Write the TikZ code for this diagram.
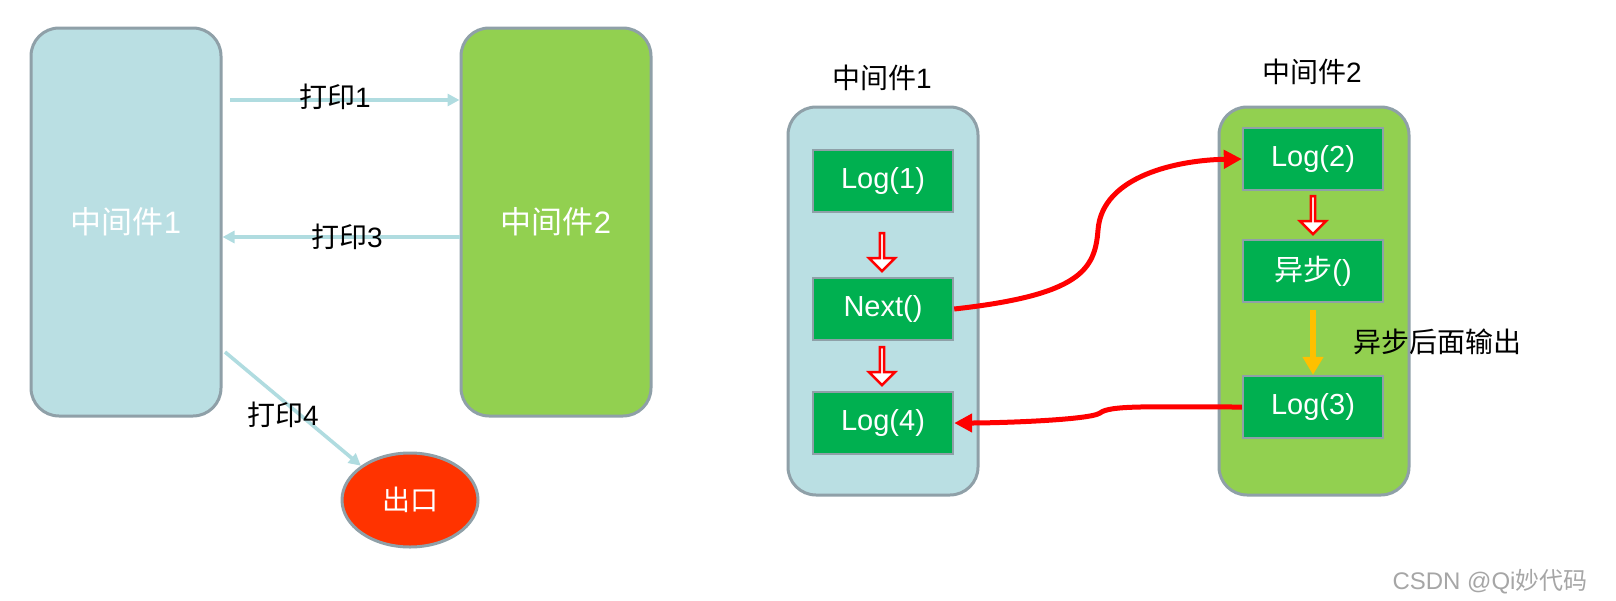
\documentclass[tikz,border=0pt]{standalone}
\usepackage{fontspec}
\setmainfont{Liberation Sans}
\newfontfamily\cjk{Noto Sans CJK SC}
\usetikzlibrary{shapes.arrows,shapes.geometric,arrows.meta}
\definecolor{lb}{HTML}{BADFE3}
\definecolor{lg}{HTML}{92D050}
\definecolor{bd}{HTML}{8FA0A8}
\definecolor{dg}{HTML}{00B050}
\definecolor{ar}{HTML}{B0DCE0}
\definecolor{og}{HTML}{FFC000}
\begin{document}
\begin{tikzpicture}[x=0.5pt,y=-0.5pt,
 big/.style={draw=bd,line width=1.5pt,rounded corners=14pt,minimum width=95pt,minimum height=194pt,font=\fontsize{15.5}{17}\selectfont,text=white},
 inn/.style={draw=bd,line width=1.2pt,fill=dg,text=white,minimum width=70pt,minimum height=31pt,font=\fontsize{14.5}{16}\selectfont},
 hol/.style={single arrow,draw=red,fill=white,line width=1.2pt,shape border rotate=270,minimum height=19pt,minimum width=13pt,single arrow head extend=3pt,inner sep=0pt},
 la/.style={ar,line width=1.8pt,-{Triangle[length=6pt,width=6pt]}},
 lbl/.style={font=\fontsize{14}{16}\selectfont},
 rd/.style={red,line width=2.5pt,-{Triangle[length=9pt,width=9pt]}}]
\node[big,fill=lb] (m1) at (126,222) {{\cjk 中间件}1};
\node[big,fill=lg] (m2) at (556,222) {{\cjk 中间件}2};
\coordinate (a1) at (230,100);
\draw[la] (a1) -- (m2.west |- a1);
\node[lbl] (t1) at (335,97) {{\cjk 打印}1};
\draw[la] (m2.west |- 0,237) -- (m1.east |- 0,237);
\node[lbl] (t3) at (347,237) {{\cjk 打印}3};
\node[ellipse,draw=bd,line width=1.5pt,fill={rgb,255:red,255;green,51;blue,0},minimum width=68pt,minimum height=47pt,text=white,font=\fontsize{14}{16}\selectfont\cjk] (out) at (410,500) {出口};
\coordinate (a4) at (225,352);
\draw[la] (a4) -- (out.north west);
\node[lbl] (t4) at (283,415) {{\cjk 打印}4};
% right
\node[big,fill=lb] (r1) at (883,301) {};
\node[big,fill=lg] (r2) at (1314,301) {};
\node[lbl] (tr1) at (882,78) {{\cjk 中间件}1};
\node[lbl] (tr2) at (1312,72) {{\cjk 中间件}2};
\node[inn] (l1) at (883,181) {Log(1)};
\node[inn] (nx) at (883,309) {Next()};
\node[inn] (l4) at (883,423) {Log(4)};
\node[inn] (l2) at (1313,159) {Log(2)};
\node[inn] (as) at (1313,271) {{\cjk 异步}()};
\node[inn] (l3) at (1313,407) {Log(3)};
\node[hol] (h1) at (882,251) {};
\node[hol] (h2) at (882,365) {};
\node[hol] (h3) at (1313,214) {};
\coordinate (o1) at (1313,310);
\draw[og,line width=3pt,-{Triangle[length=9pt,width=10pt]}] (o1) -- (l3.north);
\node[lbl,font=\fontsize{14}{16}\selectfont\cjk] (ta) at (1437,342) {异步后面输出};
\draw[rd] (nx.east) .. controls (1080,295) and (1095,270) .. (1098,230) .. controls (1102,175) and (1180,160) .. (l2.west);
\draw[rd] (l3.west) .. controls (1150,407) and (1110,405) .. (1100,413) .. controls (1090,420) and (1000,423) .. (l4.east);
\node[text=gray!70,font=\fontsize{12}{14}\selectfont] (wm) at (1490,582) {CSDN @Qi{\cjk 妙代码}};
\pgfresetboundingbox
\useasboundingbox (0,0) rectangle (1616,600);
\end{tikzpicture}
\end{document}
